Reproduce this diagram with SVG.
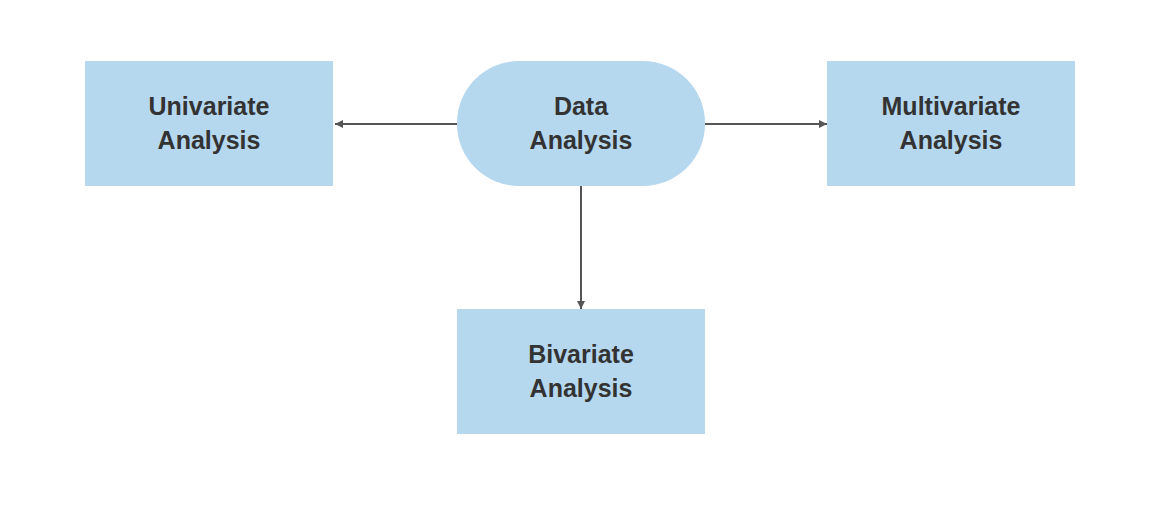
<svg xmlns="http://www.w3.org/2000/svg" width="1168" height="532" viewBox="0 0 1168 532">
<style>
.n{fill:#b5d8ef}
.t{font-family:"Liberation Sans",Arial,sans-serif;font-weight:bold;font-size:25px;fill:#333;text-anchor:middle}
.c{stroke:#555;stroke-width:2;fill:none;marker-end:url(#a)}
</style>
<defs><marker id="a" viewBox="0 0 10 10" refX="10" refY="5" markerWidth="8" markerHeight="8" markerUnits="userSpaceOnUse" orient="auto"><path d="M0,0L10,5L0,10z" fill="#555"/></marker></defs>
<rect width="1168" height="532" fill="#fff"/>
<g id="connectors">
<line class="c" x1="457" y1="124" x2="335" y2="124"/>
<line class="c" x1="705" y1="124" x2="827" y2="124"/>
<line class="c" x1="581" y1="186" x2="581" y2="309"/>
</g>
<g id="univariate"><rect class="n" x="85" y="61" width="248" height="125"/><text class="t" x="209" y="115">Univariate</text><text class="t" x="209" y="149">Analysis</text></g>
<g id="data"><rect class="n" x="457" y="61" width="248" height="125" rx="62"/><text class="t" x="581" y="115">Data</text><text class="t" x="581" y="149">Analysis</text></g>
<g id="multivariate"><rect class="n" x="827" y="61" width="248" height="125"/><text class="t" x="951" y="115">Multivariate</text><text class="t" x="951" y="149">Analysis</text></g>
<g id="bivariate"><rect class="n" x="457" y="309" width="248" height="125"/><text class="t" x="581" y="363">Bivariate</text><text class="t" x="581" y="397">Analysis</text></g>
</svg>
